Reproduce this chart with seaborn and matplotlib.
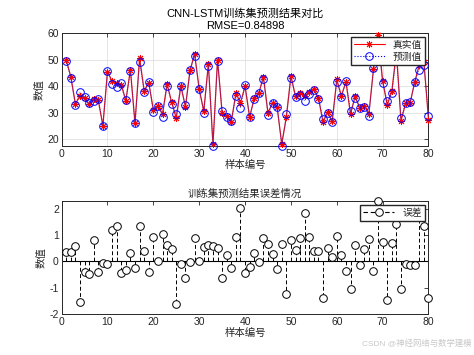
import numpy as np
import pandas as pd
import matplotlib
matplotlib.use("Agg")
import matplotlib.pyplot as plt
from matplotlib.lines import Line2D
import seaborn as sns

# sample index and values
sample_idx = list(range(1, 81))

true_vals = [49.8, 43.6, 33.4, 36.2, 35.6, 33.1, 35.2, 34.6, 25.1, 45.5,
             41.9, 41.2, 40.6, 34.4, 46.2, 26.0, 50.6, 38.3, 41.3, 31.1,
             32.5, 29.6, 40.8, 33.9, 27.9, 40.1, 32.1, 45.9, 52.2, 38.9,
             30.6, 48.4, 18.1, 50.0, 29.9, 28.6, 26.6, 37.3, 33.8, 39.9,
             28.3, 35.5, 37.3, 43.6, 29.9, 33.8, 32.0, 18.27, 28.2, 43.9,
             36.2, 37.4, 36.3, 37.9, 38.8, 35.6, 26.4, 30.3, 26.7, 42.5,
             36.3, 41.6, 29.5, 36.2, 31.8, 32.7, 29.6, 46.3, 59.2, 42.0,
             32.9, 38.0, 53.0, 26.9, 33.5, 33.7, 41.6, 48.0, 49.2, 27.4]

pred_vals = [49.45, 43.25, 32.82, 37.75, 36.00, 33.59, 34.37, 34.99, 25.15, 45.61,
             40.70, 39.85, 41.04, 34.74, 45.88, 26.24, 49.24, 37.91, 41.70, 30.19,
             32.48, 28.55, 40.17, 33.42, 29.51, 40.20, 32.74, 45.94, 51.32, 38.89,
             30.07, 47.77, 17.52, 49.48, 30.52, 28.35, 26.85, 36.37, 31.77, 40.35,
             28.50, 35.17, 37.33, 42.72, 29.23, 33.52, 32.29, 17.60, 29.44, 43.09,
             35.76, 36.52, 34.45, 36.99, 38.40, 35.22, 27.80, 29.80, 26.55, 41.54,
             36.06, 41.98, 30.56, 35.56, 31.95, 32.25, 28.74, 46.68, 56.89, 41.28,
             34.39, 37.31, 51.59, 27.96, 33.59, 33.85, 41.73, 46.23, 47.85, 28.80]

rmse_text = "RMSE=0.84898"

df = pd.DataFrame({"idx": sample_idx, "true": true_vals, "pred": pred_vals})
df["err"] = df["true"] - df["pred"]

sns.set_style("white")
plt.rcParams["font.family"] = ["Liberation Sans", "Noto Sans CJK SC", "DejaVu Sans"]
plt.rcParams["axes.unicode_minus"] = False

axis_col = "#262626"
fs = 7.5
star = (8, 2, 0)

fig = plt.figure(figsize=(4.74, 3.55), dpi=100)
ax1 = fig.add_axes([0.130, 0.589, 0.774, 0.318])
ax2 = fig.add_axes([0.130, 0.116, 0.774, 0.318])

# top: true vs predicted
sns.lineplot(data=df, x="idx", y="true", ax=ax1, color="#e0101a", marker=star,
             markersize=5, markeredgecolor="red", markeredgewidth=0.7,
             linewidth=0.9, estimator=None, sort=False, zorder=3, clip_on=False)
sns.lineplot(data=df, x="idx", y="pred", ax=ax1, color="#3030d0", marker="o",
             markersize=5.5, markerfacecolor="none", markeredgecolor="blue",
             markeredgewidth=0.7, linestyle=":", linewidth=0.55,
             estimator=None, sort=False, zorder=4, clip_on=False)
ax1.set_xlim(0, 80)
ax1.set_ylim(17.5, 60)
ax1.set_xticks(range(0, 81, 10))
ax1.set_yticks(range(20, 61, 10))
ax1.grid(True, color="#e0e0e0", linewidth=0.6)
ax1.set_title("CNN-LSTM训练集预测结果对比\n" + rmse_text, fontsize=fs + 0.5,
              color="black", pad=3, linespacing=1.2)
ax1.set_xlabel("样本编号", fontsize=fs, color=axis_col, labelpad=1)
ax1.set_ylabel("数值", fontsize=fs, color=axis_col, labelpad=2)
h1 = [Line2D([], [], color="red", marker=star, markersize=5, markeredgewidth=0.7,
             linewidth=0.8),
      Line2D([], [], color="blue", marker="o", markersize=5.5, markerfacecolor="none",
             markeredgewidth=0.7, linestyle=":", linewidth=0.8)]
leg1 = ax1.legend(h1, ["真实值", "预测值"], loc="upper right", fontsize=fs - 0.5,
                  frameon=True, fancybox=False, edgecolor=axis_col, framealpha=1,
                  handlelength=3.2, borderpad=0.3, labelspacing=0.2,
                  borderaxespad=0.4)
leg1.set_zorder(10)

# bottom: error stems
ax2.vlines(df["idx"], 0, df["err"], colors="black", linestyles=(0, (4, 2.5)),
           linewidth=0.7, zorder=2)
ax2.axhline(0, color="black", linewidth=0.8, zorder=2)
sns.lineplot(data=df, x="idx", y="err", ax=ax2, linestyle="", marker="o",
             markersize=5.5, markerfacecolor="white", markeredgecolor="black",
             markeredgewidth=0.7, estimator=None, sort=False, zorder=3,
             clip_on=False)
ax2.set_xlim(0, 80)
ax2.set_ylim(-2, 2.3)
ax2.set_xticks(range(0, 81, 10))
ax2.set_yticks(range(-2, 3, 1))
ax2.set_title("训练集预测结果误差情况", fontsize=fs, color=axis_col, pad=3)
ax2.set_xlabel("样本编号", fontsize=fs, color=axis_col, labelpad=1)
ax2.set_ylabel("数值", fontsize=fs, color=axis_col, labelpad=2)
h2 = [Line2D([], [], color="black", marker="o", markersize=5.5, markerfacecolor="white",
             markeredgewidth=0.7, linestyle=(0, (4, 2.5)), linewidth=0.8)]
leg2 = ax2.legend(h2, ["误差"], loc="upper right", fontsize=fs - 0.5, frameon=True,
                  fancybox=False, edgecolor=axis_col, framealpha=1, handlelength=3.2,
                  borderpad=0.3, borderaxespad=0.4)
leg2.set_zorder(10)

for ax in (ax1, ax2):
    for sp in ax.spines.values():
        sp.set_color(axis_col)
        sp.set_linewidth(0.7)
    ax.tick_params(direction="in", length=3, width=0.6, top=True, right=True,
                   labelsize=fs, colors=axis_col, pad=2)

fig.text(0.995, 0.02, "CSDN @神经网络与数学建模", ha="right", va="bottom",
         fontsize=6, color="#c8c8c8")

fig.savefig("out.png", dpi=100)
